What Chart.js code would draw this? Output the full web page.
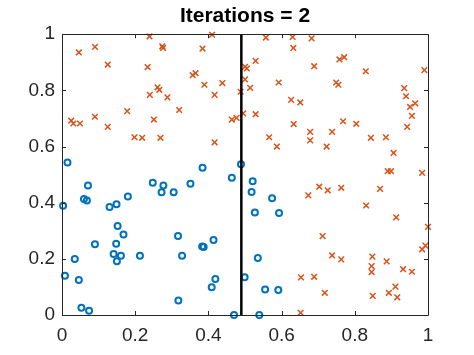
<!DOCTYPE html>
<html><head><meta charset="utf-8">
<script src="https://cdn.jsdelivr.net/npm/chart.js@4"></script>
<style>html,body{margin:0;padding:0;background:#fff}#wrap{width:474px;height:355px}</style>
</head><body><div id="wrap"><canvas id="c" width="474" height="355"></canvas></div>
<script>
const titleText = "Iterations = 2";
const tickValues = [0, 0.2, 0.4, 0.6, 0.8, 1];
const tickLabels = ["0", "0.2", "0.4", "0.6", "0.8", "1"];
const splitX = 0.49;
const orangeX = [0.239,0.274,0.276,0.410,0.046,0.090,0.384,0.125,0.234,0.357,0.365,0.389,0.438,0.261,0.266,0.240,0.288,0.417,0.488,0.178,0.320,0.025,0.031,0.049,0.090,0.125,0.251,0.464,0.477,0.198,0.219,0.269,0.417,
0.557,0.630,0.682,0.632,0.529,0.758,0.771,0.500,0.505,0.689,0.830,0.990,0.500,0.514,0.592,0.749,0.755,0.935,0.940,0.965,0.951,0.956,0.943,0.626,0.651,0.495,0.529,0.633,0.768,0.804,0.566,0.587,0.678,0.678,0.738,0.723,0.844,0.885,0.906,0.890,0.899,0.984,
0.703,0.726,0.763,0.673,0.869,0.831,0.913,1.000,0.712,0.984,0.993,0.738,0.763,0.848,0.846,0.846,0.887,0.932,0.956,0.653,0.689,0.718,0.849,0.893,0.911,0.916,0.652];
const orangeY = [0.992,0.957,0.951,0.998,0.935,0.955,0.949,0.892,0.883,0.854,0.861,0.820,0.826,0.811,0.802,0.784,0.775,0.784,0.795,0.726,0.730,0.692,0.682,0.682,0.706,0.670,0.696,0.696,0.702,0.633,0.631,0.631,0.615,
0.988,0.990,0.985,0.951,0.905,0.910,0.918,0.884,0.878,0.886,0.868,0.872,0.839,0.809,0.828,0.828,0.820,0.808,0.779,0.754,0.741,0.709,0.670,0.766,0.757,0.718,0.715,0.680,0.690,0.681,0.633,0.600,0.652,0.622,0.652,0.600,0.631,0.633,0.577,0.512,0.512,0.506,
0.457,0.444,0.453,0.426,0.449,0.390,0.348,0.314,0.281,0.234,0.247,0.212,0.198,0.208,0.174,0.153,0.191,0.163,0.154,0.134,0.136,0.079,0.068,0.079,0.101,0.063,0.008];
const blueX = [0.015,0.384,0.489,0.464,0.071,0.248,0.277,0.351,0.272,0.305,0.180,0.060,0.068,0.003,0.130,0.149,0.152,0.168,0.148,0.090,0.317,0.383,0.387,0.414,0.141,0.161,0.150,0.213,0.328,0.035,0.008,0.046,0.419,0.409,0.318,0.053,0.074,0.470,
0.521,0.518,0.574,0.527,0.593,0.535,0.499,0.555,0.591,0.539];
const blueY = [0.543,0.524,0.537,0.489,0.461,0.471,0.461,0.467,0.437,0.437,0.422,0.413,0.408,0.389,0.385,0.394,0.317,0.287,0.254,0.252,0.281,0.244,0.242,0.267,0.217,0.211,0.191,0.211,0.211,0.199,0.140,0.125,0.128,0.099,0.052,0.026,0.015,0.000,
0.476,0.438,0.416,0.365,0.363,0.203,0.134,0.091,0.089,0.000];

const toPts = (xs, ys) => xs.map((x, i) => ({x: x, y: ys[i]}));
const axisColor = '#262626';
const labelFor = v => { const i = tickValues.findIndex(t => Math.abs(t - v) < 1e-9); return i >= 0 ? tickLabels[i] : ''; };

const boxTicks = {
  id: 'boxTicks',
  afterDraw(chart) {
    const {ctx, chartArea: a, scales} = chart;
    ctx.save();
    ctx.strokeStyle = axisColor;
    ctx.lineWidth = 1;
    ctx.beginPath();
    ctx.rect(Math.round(a.left) + 0.5, Math.round(a.top) + 0.5, Math.round(a.right - a.left), Math.round(a.bottom - a.top));
    ctx.stroke();
    const L = 4;
    ctx.beginPath();
    tickValues.forEach(v => {
      const px = Math.round(scales.x.getPixelForValue(v)) + 0.5;
      ctx.moveTo(px, a.bottom); ctx.lineTo(px, a.bottom - L);
      ctx.moveTo(px, a.top); ctx.lineTo(px, a.top + L);
      const py = Math.round(scales.y.getPixelForValue(v)) + 0.5;
      ctx.moveTo(a.left, py); ctx.lineTo(a.left + L, py);
      ctx.moveTo(a.right, py); ctx.lineTo(a.right - L, py);
    });
    ctx.stroke();
    ctx.restore();
  }
};

new Chart(document.getElementById('c'), {
  type: 'scatter',
  data: {
    datasets: [
      {data: toPts(blueX, blueY), pointStyle: 'circle', radius: 3, borderWidth: 2, borderColor: '#0072BD', backgroundColor: 'rgba(0,0,0,0)', clip: false, order: 3},
      {data: toPts(orangeX, orangeY), pointStyle: 'crossRot', radius: 4, borderWidth: 1.5, borderColor: '#D95319', backgroundColor: '#D95319', clip: false, order: 2},
      {type: 'line', data: [{x: splitX, y: 0}, {x: splitX, y: 1}], borderColor: '#000', borderWidth: 2.5, pointRadius: 0, fill: false, order: 1}
    ]
  },
  options: {
    responsive: false,
    animation: false,
    devicePixelRatio: 1,
    layout: {padding: {left: 0, right: 46, top: 0, bottom: 0}},
    plugins: {
      legend: {display: false},
      tooltip: {enabled: false},
      title: {display: true, text: titleText, fullSize: false, color: '#000',
        font: {family: 'Liberation Sans, Arial, sans-serif', size: 21, weight: 'bold'},
        padding: {top: 4, bottom: 5}}
    },
    scales: {
      x: {type: 'linear', min: 0, max: 1,
        afterFit(s) { s.height = 40; },
        afterBuildTicks(s) { s.ticks = tickValues.map(v => ({value: v})); },
        grid: {display: false, drawTicks: false},
        border: {display: false},
        ticks: {color: axisColor, padding: 9, maxRotation: 0, callback: v => labelFor(v), font: {family: 'Liberation Sans, Arial, sans-serif', size: 19}}
      },
      y: {type: 'linear', min: 0, max: 1,
        afterFit(s) { s.width = 62; },
        afterBuildTicks(s) { s.ticks = tickValues.map(v => ({value: v})); },
        grid: {display: false, drawTicks: false},
        border: {display: false},
        ticks: {color: axisColor, padding: 7, callback: v => labelFor(v), font: {family: 'Liberation Sans, Arial, sans-serif', size: 19}}
      }
    }
  },
  plugins: [boxTicks]
});
</script>
</body></html>
